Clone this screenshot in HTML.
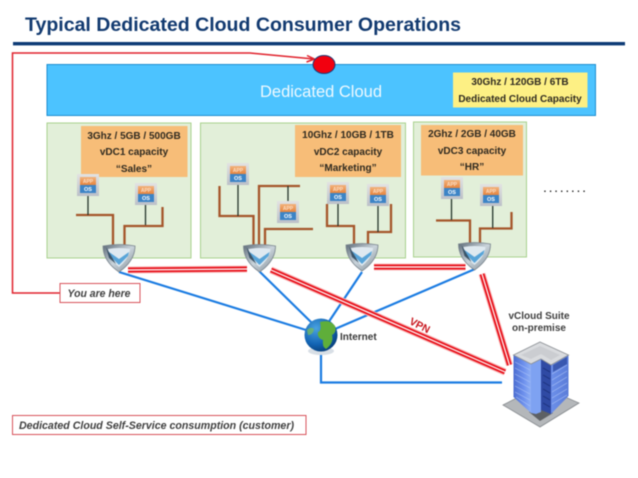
<!DOCTYPE html>
<html>
<head>
<meta charset="utf-8">
<style>
html,body{margin:0;padding:0;background:#fff;width:638px;height:478px;overflow:hidden}
svg{display:block;filter:blur(.4px)}
text{font-family:"Liberation Sans",sans-serif}
.t{font-size:10px;font-weight:bold;fill:#2f2a20;text-anchor:middle}
.a{font-size:5px;font-weight:bold;fill:#fbdcc0;text-anchor:middle}
.o{font-size:5.5px;font-weight:bold;fill:#fff;text-anchor:middle}
.b{fill:none;stroke:#a5552a;stroke-width:2.3}
.s{fill:none;stroke:#24352c;stroke-width:1.3}
.u{fill:none;stroke:#1b7ce2;stroke-width:2.2}
</style>
</head>
<body>
<svg width="638" height="478" viewBox="0 0 638 478" xmlns="http://www.w3.org/2000/svg">
<defs>
<linearGradient id="sh" x1="0" y1="0" x2="1" y2="1">
<stop offset="0" stop-color="#5d6b78"/><stop offset=".5" stop-color="#c9d3da"/><stop offset="1" stop-color="#7f8b95"/>
</linearGradient>
<linearGradient id="ic" x1="0" y1="0" x2="0" y2="1">
<stop offset="0" stop-color="#e2e2e2"/><stop offset="1" stop-color="#bcc0c8"/>
</linearGradient>
<linearGradient id="ora" x1="0" y1="0" x2="0" y2="1">
<stop offset="0" stop-color="#f2b27c"/><stop offset="1" stop-color="#e5843e"/>
</linearGradient>
<radialGradient id="gl" cx=".35" cy=".3" r=".8">
<stop offset="0" stop-color="#4aa3e0"/><stop offset=".6" stop-color="#1264b4"/><stop offset="1" stop-color="#06386f"/>
</radialGradient>
<linearGradient id="w1" x1="0" y1="0" x2="1" y2="0">
<stop offset="0" stop-color="#4a6cd0"/><stop offset=".6" stop-color="#6f92ee"/><stop offset="1" stop-color="#8fb0f5"/>
</linearGradient>
<linearGradient id="w2" x1="0" y1="0" x2="1" y2="0">
<stop offset="0" stop-color="#6d90ea"/><stop offset="1" stop-color="#5a7cd8"/>
</linearGradient>
<g id="shield">
<path d="M0 1 Q16 -2 32 1 Q32 16 16 27 Q0 16 0 1Z" fill="url(#sh)" stroke="#7a858e" stroke-width=".8"/>
<path d="M5 4 Q16 2 27 4 Q26 14 16 22 Q6 14 5 4Z" fill="#dfe9f0"/>
<path d="M6 7 L16 14 L26 7 L25 11 L16 20 L7 11Z" fill="#58a4d8"/>
<path d="M3 2 L13 19 L6 13Z" fill="#3b5468"/>
</g>
<g id="icon">
<rect x="0" y="0" width="22" height="22" fill="url(#ic)"/>
<rect x="3" y="3" width="16" height="8" fill="url(#ora)"/>
<rect x="3" y="11" width="16" height="8" fill="#3c84c6"/>
</g>
</defs>

<rect width="638" height="478" fill="#fff"/>

<text x="25" y="31" font-size="19.5" font-weight="bold" fill="#123a70" textLength="436" lengthAdjust="spacingAndGlyphs">Typical Dedicated Cloud Consumer Operations</text>
<rect x="13" y="42" width="612" height="3.4" fill="#0d3b76"/>

<!-- Dedicated cloud -->
<rect x="47" y="64.5" width="548.5" height="51" fill="#4cc3ff" stroke="#1c8ed0" stroke-width="1"/>
<text x="321" y="97" font-size="16.5" fill="#eef9ff" text-anchor="middle">Dedicated Cloud</text>
<rect x="453" y="72.5" width="134.5" height="35" fill="#fdf084"/>
<text x="520" y="85" class="t">30Ghz / 120GB / 6TB</text>
<text x="520" y="102" class="t">Dedicated Cloud Capacity</text>

<!-- vDC boxes -->
<rect x="47" y="123" width="144" height="135" fill="#e2efd9" stroke="#a9d18e" stroke-width="1"/>
<rect x="200.500" y="123" width="205" height="135" fill="#e2efd9" stroke="#a9d18e" stroke-width="1"/>
<rect x="413.500" y="122" width="113" height="135" fill="#e2efd9" stroke="#a9d18e" stroke-width="1"/>

<rect x="81" y="126" width="106.500" height="51" fill="#f7bd78"/>
<rect x="295" y="125" width="106" height="52" fill="#f7bd78"/>
<rect x="421" y="125" width="102" height="50.500" fill="#f7bd78"/>

<text x="134" y="139" class="t">3Ghz / 5GB / 500GB</text>
<text x="134" y="155" class="t">vDC1 capacity</text>
<text x="134" y="172" class="t">“Sales”</text>
<text x="348" y="138" class="t">10Ghz / 10GB / 1TB</text>
<text x="348" y="155" class="t">vDC2 capacity</text>
<text x="348" y="171" class="t">“Marketing”</text>
<text x="472" y="137" class="t">2Ghz / 2GB / 40GB</text>
<text x="472" y="154" class="t">vDC3 capacity</text>
<text x="472" y="170" class="t">“HR”</text>

<text x="543" y="192" font-size="14" fill="#222" textLength="43">........</text>

<!-- Brown wiring -->
<path class="b" d="M76 215H113V246"/>
<path class="b" d="M162.500 207V226H124.500V246"/>
<path class="b" d="M219.500 186V216H253.500V246"/>
<path class="b" d="M300 186H259V246"/>
<path class="b" d="M313 229H265V246"/>
<path class="b" d="M327 204V226H354V246"/>
<path class="b" d="M391 204V232H368V246"/>
<path class="b" d="M436 220.500H470V246"/>
<path class="b" d="M511.500 212V228.500H480V246"/>

<!-- Stems -->
<path class="s" d="M88 196V215M145.500 204V225M238 185V216M288 186V201M338 204V226M378 206V232M451.500 199V220M492.700 205V228"/>

<!-- Icons -->
<use href="#icon" x="77" y="174"/><text x="88" y="183" class="a">APP</text><text x="88" y="191" class="o">OS</text>
<use href="#icon" x="135" y="183"/><text x="146" y="192" class="a">APP</text><text x="146" y="200" class="o">OS</text>
<use href="#icon" x="227" y="163"/><text x="238" y="172" class="a">APP</text><text x="238" y="180" class="o">OS</text>
<use href="#icon" x="277" y="201"/><text x="288" y="210" class="a">APP</text><text x="288" y="218" class="o">OS</text>
<use href="#icon" x="327" y="182"/><text x="338" y="191" class="a">APP</text><text x="338" y="199" class="o">OS</text>
<use href="#icon" x="367" y="184"/><text x="378" y="193" class="a">APP</text><text x="378" y="201" class="o">OS</text>
<use href="#icon" x="441" y="177"/><text x="452" y="186" class="a">APP</text><text x="452" y="194" class="o">OS</text>
<use href="#icon" x="480" y="184"/><text x="491" y="193" class="a">APP</text><text x="491" y="201" class="o">OS</text>

<!-- Blue links -->
<path class="u" d="M119 272L306 330"/>
<path class="u" d="M259 271L313 324"/>
<path class="u" d="M362 272L328 323"/>
<path class="u" d="M475 269L335 329"/>
<path class="u" d="M321 350V382.500H502"/>

<!-- VPN tunnels -->
<g fill="none">
<path stroke="#f9b8b8" stroke-width="7" d="M128 270L247 269M271 270L505 372M374 267L465.500 267M482 274L509.500 365"/>
<path stroke="#e8141e" stroke-width="5" d="M128 270L247 269M271 270L505 372M374 267L465.500 267M482 274L509.500 365"/>
<path stroke="#fff" stroke-width="1.200" d="M128 270L247 269M271 270L505 372M374 267L465.500 267M482 274L509.500 365"/>
</g>
<text x="420" y="329" font-size="10.500" font-weight="bold" fill="#c8161e" text-anchor="middle" transform="rotate(27 420 325)">VPN</text>

<!-- Shields -->
<use href="#shield" x="103" y="245"/>
<use href="#shield" x="243.500" y="245"/>
<use href="#shield" x="346" y="244"/>
<use href="#shield" x="458.500" y="243"/>

<!-- Globe -->
<ellipse cx="321" cy="351" rx="13" ry="4" fill="#d8dfe6"/>
<circle cx="321" cy="335" r="16.500" fill="url(#gl)"/>
<path d="M320 322Q330 319 335 326Q337 332 332 335Q334 343 326 349Q322 347 323 340Q317 338 318 332Q322 331 320 322Z" fill="#5fae3a"/>
<path d="M307 330Q311 326 314 329Q313 335 308 335Z" fill="#7cbf52" opacity=".7"/>
<text x="340" y="340" font-size="10" font-weight="bold" fill="#3a3a3a">Internet</text>

<!-- Building -->
<text x="539" y="319" font-size="10" font-weight="bold" fill="#3f3f3f" text-anchor="middle">vCloud Suite</text>
<text x="539" y="331" font-size="10" font-weight="bold" fill="#3f3f3f" text-anchor="middle">on-premise</text>
<path d="M503 405L540 386L579 403L540 427Z" fill="#b4b7ba" stroke="#85898d" stroke-width=".8"/>
<path d="M529 412L541 406L553 413L540 421Z" fill="#5d6064"/>
<path d="M513.500 355L531 364V413L513.500 397Z" fill="url(#w1)"/>
<path d="M531 364L541 359V412L536 414L531 413Z" fill="#7ea2f2"/>
<path d="M541 359L551 365V414L541 410Z" fill="#2f4aa4"/>
<path d="M551 365L568.500 355V396L551 414Z" fill="url(#w2)"/>
<path d="M513.500 355L540 342L568.500 355L551 365L541 359L531 364Z" fill="#d9dbde" stroke="#8d9196" stroke-width=".9"/>
<path d="M521 355L540 346L560 355L551 360L541 354L531 359Z" fill="#cbcdd1"/>
<g stroke="#b3c8f7" stroke-width=".7" fill="none" opacity=".8">
<path d="M515 362L530 370M515 368L530 376M515 374L530 382M515 380L530 388M515 386L530 394M515 392L530 400M516 397L530 406"/>
<path d="M552 374L567 365M552 380L567 371M552 386L567 377M552 392L567 383M552 398L567 389M552 404L567 395"/>
</g>
<g stroke="#14286e" stroke-width="1" fill="none" opacity=".7">
<path d="M543 368L550 372M543 375L550 379M543 382L550 386M543 389L550 393M543 396L550 400M543 403L550 407"/>
</g>
<path d="M553 365L567 357V364L553 372Z" fill="#2c4aa0" opacity=".75"/>

<!-- You are here connector -->
<path d="M60 293H12.500V53H250L314 59" fill="none" stroke="#e0222c" stroke-width="1.500"/>
<path d="M307 55.500L314.500 59L306.500 62" fill="none" stroke="#e0222c" stroke-width="1.500"/>
<ellipse cx="324" cy="64.500" rx="11" ry="9" fill="#f2000f" stroke="#1a3c78" stroke-width="1"/>

<rect x="60" y="283.500" width="80" height="19" fill="#fff" stroke="#d8525a" stroke-width="1"/>
<text x="67.500" y="297" font-size="11" font-style="italic" font-weight="bold" fill="#3f3f3f" textLength="63" lengthAdjust="spacingAndGlyphs">You are here</text>
<rect x="12.500" y="415.500" width="293.500" height="19" fill="#fff" stroke="#d8525a" stroke-width="1"/>
<text x="19" y="429" font-size="11" font-style="italic" font-weight="bold" fill="#3f3f3f" textLength="275" lengthAdjust="spacingAndGlyphs">Dedicated Cloud Self-Service consumption (customer)</text>
</svg>
</body>
</html>
